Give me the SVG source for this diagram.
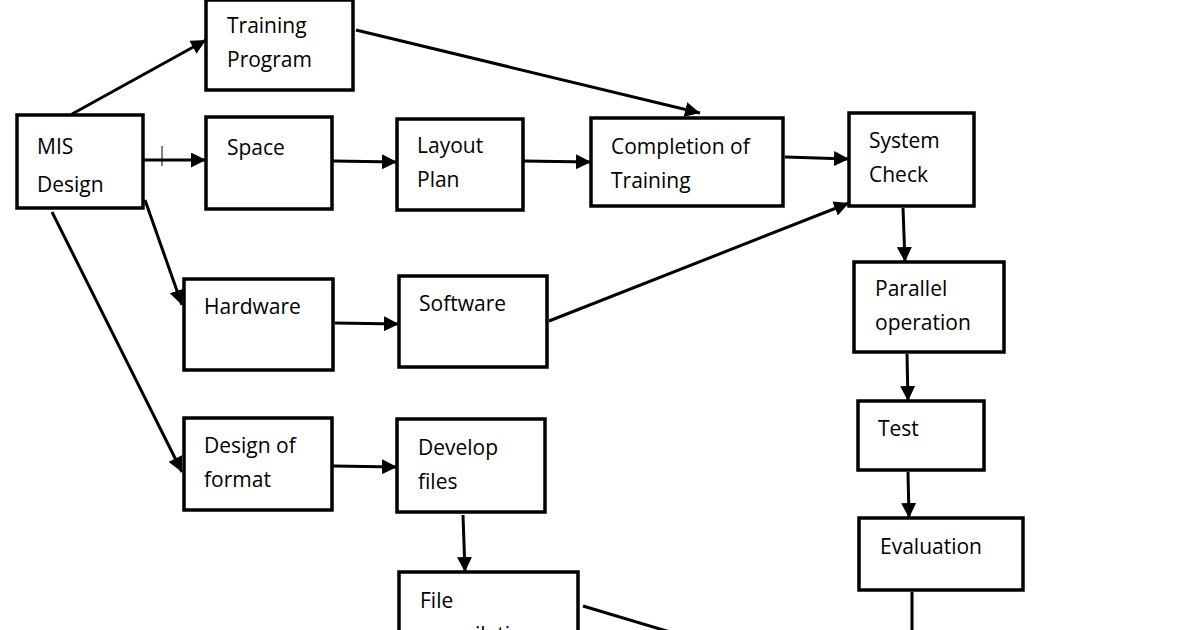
<svg xmlns="http://www.w3.org/2000/svg" width="1200" height="630" viewBox="0 0 1200 630">
<defs>
<style>
.b{fill:#fff;stroke:#000;stroke-width:3.5}
.t{font-family:"Open Sans","Liberation Sans",sans-serif;font-size:21px;fill:#000}
.c line{stroke:#000;stroke-width:3}
</style>
<marker id="a" viewBox="0 0 10 10" refX="10" refY="5" markerWidth="5" markerHeight="5" orient="auto"><path d="M0,0L10,5L0,10z" fill="#000"/></marker>
</defs>
<rect width="1200" height="630" fill="#fff"/>
<g class="c">
<line x1="72" y1="114" x2="206" y2="40" marker-end="url(#a)"/>
<line x1="356" y1="30" x2="700" y2="113" marker-end="url(#a)"/>
<line x1="143" y1="160" x2="206" y2="160" marker-end="url(#a)"/>
<line x1="162" y1="146" x2="162" y2="166" style="stroke-width:1"/>
<line x1="333" y1="161" x2="397" y2="162" marker-end="url(#a)"/>
<line x1="523" y1="161" x2="591" y2="162" marker-end="url(#a)"/>
<line x1="785" y1="157" x2="849" y2="159" marker-end="url(#a)"/>
<line x1="549" y1="321" x2="849" y2="203" marker-end="url(#a)"/>
<line x1="145" y1="200" x2="182" y2="305" marker-end="url(#a)"/>
<line x1="52" y1="212" x2="182" y2="472" marker-end="url(#a)"/>
<line x1="335" y1="323" x2="399" y2="324" marker-end="url(#a)"/>
<line x1="333" y1="466" x2="397" y2="467" marker-end="url(#a)"/>
<line x1="463" y1="515" x2="465" y2="572" marker-end="url(#a)"/>
<line x1="903" y1="208" x2="905" y2="262" marker-end="url(#a)"/>
<line x1="907" y1="354" x2="908" y2="401" marker-end="url(#a)"/>
<line x1="908" y1="472" x2="909" y2="518" marker-end="url(#a)"/>
<line x1="912" y1="592" x2="912" y2="635"/>
<line x1="583" y1="606" x2="680" y2="635"/>
</g>
<g id="mis"><rect class="b" x="17" y="115" width="126" height="93"/><text class="t" x="37" y="154">MIS</text><text class="t" x="37" y="192">Design</text></g>
<g id="training"><rect class="b" x="206" y="0" width="147" height="90"/><text class="t" x="227" y="33">Training</text><text class="t" x="227" y="67">Program</text></g>
<g id="space"><rect class="b" x="206" y="117" width="126" height="92"/><text class="t" x="227" y="155">Space</text></g>
<g id="layout"><rect class="b" x="397" y="119" width="126" height="91"/><text class="t" x="417" y="153">Layout</text><text class="t" x="417" y="187">Plan</text></g>
<g id="completion"><rect class="b" x="591" y="118" width="192" height="88"/><text class="t" x="611" y="154">Completion of</text><text class="t" x="611" y="188">Training</text></g>
<g id="syscheck"><rect class="b" x="849" y="113" width="125" height="93"/><text class="t" x="869" y="148">System</text><text class="t" x="869" y="182">Check</text></g>
<g id="hardware"><rect class="b" x="184" y="279" width="149" height="91"/><text class="t" x="204" y="314">Hardware</text></g>
<g id="software"><rect class="b" x="399" y="276" width="148" height="91"/><text class="t" x="419" y="311">Software</text></g>
<g id="format"><rect class="b" x="184" y="418" width="148" height="92"/><text class="t" x="204" y="453">Design of</text><text class="t" x="204" y="487">format</text></g>
<g id="develop"><rect class="b" x="397" y="419" width="148" height="93"/><text class="t" x="418" y="455">Develop</text><text class="t" x="418" y="489">files</text></g>
<g id="filecomp"><rect class="b" x="399" y="572" width="179" height="80"/><text class="t" x="420" y="608">File</text><text class="t" x="420" y="642">compilation</text></g>
<g id="parallel"><rect class="b" x="854" y="262" width="150" height="90"/><text class="t" x="875" y="296">Parallel</text><text class="t" x="875" y="330">operation</text></g>
<g id="test"><rect class="b" x="858" y="401" width="126" height="69"/><text class="t" x="878" y="436">Test</text></g>
<g id="evaluation"><rect class="b" x="859" y="518" width="164" height="72"/><text class="t" x="880" y="554">Evaluation</text></g>
</svg>
